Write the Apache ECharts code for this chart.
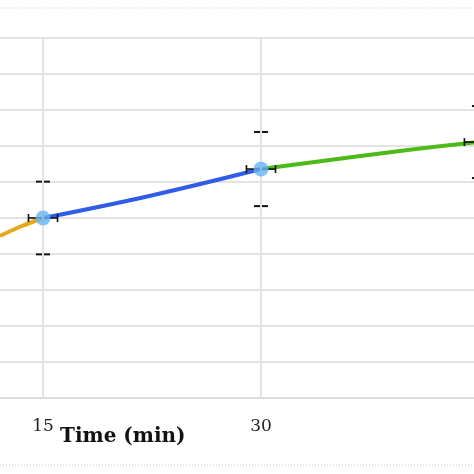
<!DOCTYPE html><html><head><meta charset="utf-8"><script src="https://cdn.jsdelivr.net/npm/echarts@6/dist/echarts.min.js"></script>
<style>html,body{margin:0;padding:0;background:#fff}#c{width:474px;height:474px}</style></head><body><div id="c"></div><script>
const tickValues=[15,30,45];
const pointsT=[15,30,45];
const pointsY=[5.0,6.36,7.11];
const errY=[1.01,1.03,1.0];
const errX=[1.0,1.0,1.0];
const seg1=[[12.04,4.5],[13.5,4.77],[15,5.0]];
const seg2=[[15,5.0],[22.4,5.62],[30,6.36]];
const seg3=[[30,6.36],[39.55,6.86],[45,7.11]];
const chart=echarts.init(document.getElementById('c'));
const font='"DejaVu Serif","Liberation Serif",serif';
function line(d,c){return {type:'line',data:d,smooth:0.4,showSymbol:false,lineStyle:{color:c,width:4},z:3,silent:true};}
chart.setOption({
 animation:false,
 grid:{left:0,right:0,top:38,bottom:76},
 xAxis:{type:'value',min:12.04,max:44.66,
  axisLine:{show:true,lineStyle:{color:'#dddddd',width:2}},axisTick:{show:false},splitLine:{show:false},
  axisLabel:{customValues:tickValues,color:'#222',fontFamily:font,fontSize:17,margin:20,showMaxLabel:true,hideOverlap:false}},
 yAxis:{type:'value',min:0,max:10,interval:1,axisLabel:{show:false},axisLine:{show:false},axisTick:{show:false},
  splitLine:{lineStyle:{color:'#e3e3e3',width:2}}},
 graphic:[
  {type:'line',shape:{x1:0,y1:8,x2:474,y2:8},style:{stroke:'#cccccc',lineDash:[1,2],lineWidth:1}},
  {type:'line',shape:{x1:0,y1:465,x2:474,y2:465},style:{stroke:'#cccccc',lineDash:[1,2],lineWidth:1}},
  {type:'text',left:60,top:427,style:{text:'Time (min)',font:'bold 20px '+font,fill:'#111'}}
 ],
 series:[
  {type:'line',data:[],markLine:{silent:true,symbol:'none',label:{show:false},lineStyle:{color:'#e3e3e3',width:2,type:'solid'},
    data:tickValues.map(v=>({xAxis:v}))}},
  line(seg1,'#e3a91a'),line(seg2,'#2f5ce8'),line(seg3,'#4cbb17'),
  {type:'custom',z:4,data:pointsT.map((t,i)=>[t,pointsY[i],errY[i],errX[i]]),
   renderItem:function(p,api){
    const t=api.value(0),y=api.value(1),ey=api.value(2),ex=api.value(3);
    const top=api.coord([t,y+ey]),bot=api.coord([t,y-ey]),l=api.coord([t-ex,y]),r=api.coord([t+ex,y]);
    const f={fill:'#111'};
    return {type:'group',children:[
     {type:'rect',shape:{x:top[0]-1,y:top[1],width:2,height:bot[1]-top[1]},style:f},
     {type:'rect',shape:{x:top[0]-7,y:top[1]-1,width:14,height:2},style:f},
     {type:'rect',shape:{x:bot[0]-7,y:bot[1]-1,width:14,height:2},style:f},
     {type:'rect',shape:{x:l[0],y:l[1]-0.8,width:r[0]-l[0],height:1.6},style:f},
     {type:'rect',shape:{x:l[0]-0.8,y:l[1]-4,width:1.6,height:8},style:f},
     {type:'rect',shape:{x:r[0]-0.8,y:r[1]-4,width:1.6,height:8},style:f}
    ]};}},
  {type:'scatter',z:5,data:pointsT.map((t,i)=>[t,pointsY[i]]),symbolSize:15,itemStyle:{color:'#69b4f5'}}
 ]
});
</script></body></html>
